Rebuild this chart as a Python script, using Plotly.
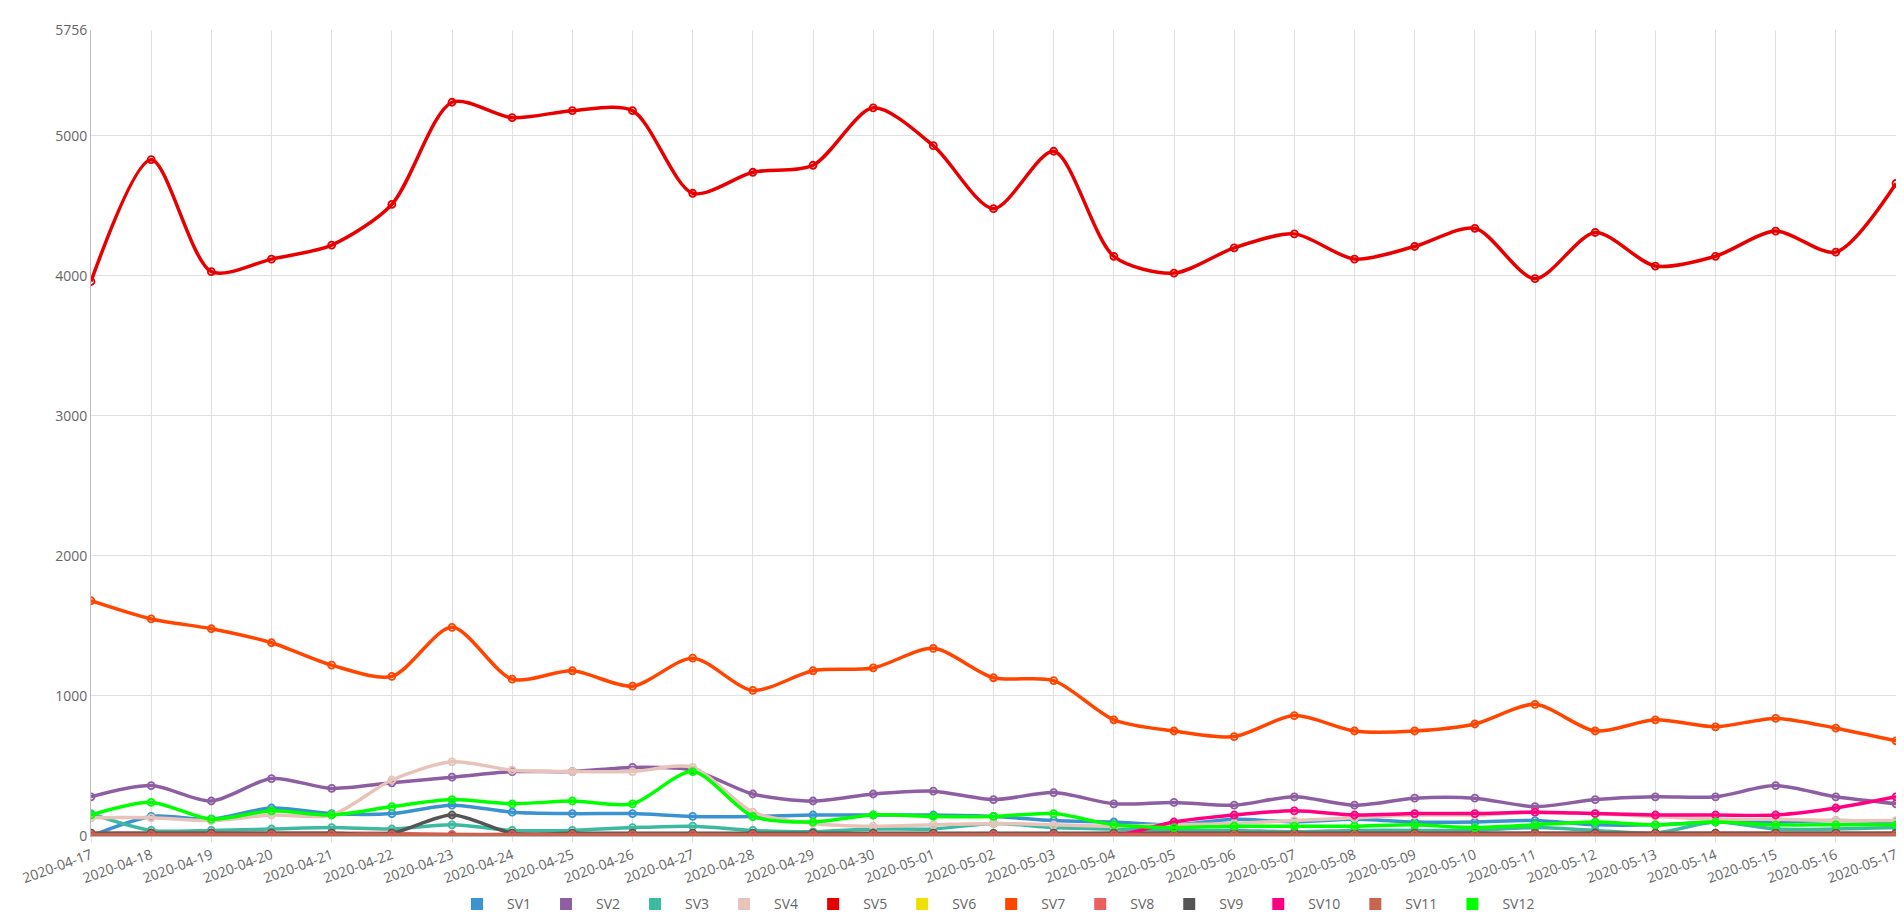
import plotly.graph_objects as go
import pandas as pd

dates = [d.strftime("%Y-%m-%d") for d in pd.date_range("2020-04-17", "2020-05-17")]
names = ["SV1","SV2","SV3","SV4","SV5","SV6","SV7","SV8","SV9","SV10","SV11","SV12"]
colors = ["#3a93d0","#8e5ea2","#3cba9f","#e8c3b9","#e80000","#f0e000","#ff4500","#e86060","#555555","#ff0080","#c86450","#00ff00"]

sv1 = [0,140,120,200,160,160,220,170,160,160,140,140,150,150,150,140,110,100,80,120,100,120,100,100,110,80,80,100,100,110,100]
sv2 = [280,360,250,410,340,380,420,460,460,490,470,300,250,300,320,260,310,230,240,220,280,220,270,270,210,260,280,280,360,280,230]
sv3 = [160,40,40,50,60,50,80,40,40,60,70,40,30,50,50,90,60,50,40,40,30,40,40,40,60,40,20,100,50,50,60]
sv4 = [130,130,110,150,150,400,530,470,460,460,490,170,90,70,80,90,80,70,80,90,110,130,150,150,170,160,140,120,120,110,110]
sv5 = [3960,4830,4030,4120,4220,4510,5240,5130,5180,5180,4590,4740,4790,5200,4930,4480,4890,4140,4020,4200,4300,4120,4210,4340,3980,4310,4070,4140,4320,4170,4660]
sv6 = [0]*31
sv7 = [1680,1550,1480,1380,1220,1140,1490,1120,1180,1070,1270,1040,1180,1200,1340,1130,1110,830,750,710,860,750,750,800,940,750,830,780,840,770,680]
sv8 = [20,20,20,20,20,20,10,10,10,10,10,10,10,10,10,10,10,20,20,20,20,20,20,20,20,20,20,20,20,20,20]
sv9 = [20,20,20,20,20,20,150,20,20,20,20,20,20,20,20,20,20,20,20,20,20,20,20,20,20,20,20,20,20,20,20]
sv10 = [0,0,0,0,0,0,0,0,0,0,0,0,0,0,0,0,0,0,100,150,180,150,160,160,170,160,150,150,150,200,280]
sv11 = [10]*31
sv12 = [150,240,120,180,150,210,260,230,250,230,460,140,100,150,140,140,160,80,60,70,70,70,80,60,80,100,80,100,80,80,80]
series = [sv1,sv2,sv3,sv4,sv5,sv6,sv7,sv8,sv9,sv10,sv11,sv12]

fig = go.Figure()
for n, c, v in zip(names, colors, series):
    fig.add_trace(go.Scatter(x=dates, y=v, name=n, mode="lines+markers", legendgroup=n,
        showlegend=False,
        line=dict(color=c, width=3.5, shape="spline", smoothing=0.8),
        marker=dict(size=7, symbol="circle-open", color=c, line=dict(width=1.8))))
for n, c in zip(names, colors):
    fig.add_trace(go.Bar(x=[dates[0]], y=[None], name=n, legendgroup=n,
                         marker=dict(color=c, line=dict(color=c, width=0))))

fig.update_layout(
    width=1904, height=924, paper_bgcolor="white", plot_bgcolor="white",
    margin=dict(l=63, r=12, t=22, b=70),
    font=dict(family="Open Sans, Arial", size=14, color="#666"),
    legend=dict(orientation="h", x=0.5, xanchor="center", y=-0.065, yanchor="top",
                font=dict(size=14, color="#666"), itemwidth=50),
    showlegend=True,
)
fig.update_xaxes(type="category", showgrid=True, gridcolor="#e0e0e0", tickangle=-20,
                 range=[0, 30], showline=True, linecolor="#bbb", ticks="outside", tickcolor="#e0e0e0")
fig.update_yaxes(range=[0, 5756], tickvals=[0,1000,2000,3000,4000,5000,5756],
                 showgrid=True, gridcolor="#e0e0e0", zeroline=False, showline=True, linecolor="#bbb")
fig.write_html("out.html")
